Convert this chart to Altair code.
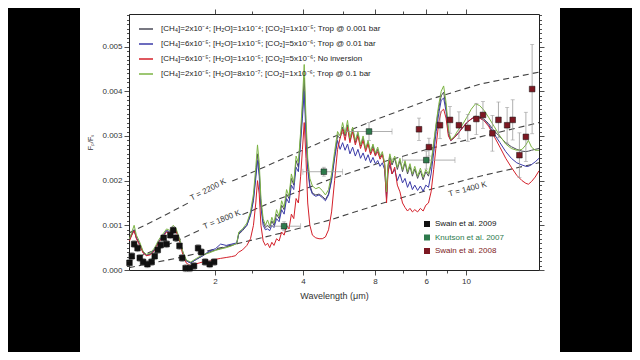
import altair as alt
import pandas as pd

# ---------------- data ----------------
# model wavelength grid (micron)
wl = [1.51, 1.53, 1.55, 1.57, 1.60, 1.63, 1.66, 1.70, 1.74, 1.78,
      1.82, 1.86, 1.90, 1.93, 1.96, 2.00, 2.04, 2.08, 2.13, 2.20,
      2.28, 2.36, 2.45, 2.52, 2.60, 2.68, 2.74, 2.76, 2.79, 2.85,
      2.92, 2.98, 3.03, 3.07, 3.10, 3.13, 3.16, 3.20, 3.24, 3.28,
      3.32, 3.36, 3.40, 3.45, 3.50, 3.55, 3.60, 3.65, 3.70, 3.75,
      3.80, 3.85, 3.90, 3.95, 3.99, 4.03, 4.07, 4.11, 4.16, 4.22,
      4.30, 4.38, 4.46, 4.54, 4.62, 4.70, 4.78, 4.86, 4.93, 5.00,
      5.07, 5.14, 5.21, 5.29, 5.37, 5.45, 5.53, 5.61, 5.69, 5.77,
      5.85, 5.93, 6.01, 6.09, 6.17, 6.25, 6.33, 6.40, 6.45, 6.52,
      6.60, 6.70, 6.80, 6.90, 7.00, 7.10, 7.20, 7.30, 7.40, 7.50,
      7.62, 7.74, 7.86, 7.98, 8.10, 8.22, 8.34, 8.46, 8.58, 8.70,
      8.82, 8.94, 9.06, 9.18, 9.35, 9.55, 9.80, 10.05, 10.30, 10.55,
      10.80, 11.05, 11.35, 11.70, 12.10, 12.50, 12.90, 13.30, 13.70, 14.00,
      14.20, 14.45, 14.75, 15.07]

# model Fp/Fs in units of 1e-3
m1 = [0.68, 0.80, 0.90, 0.72, 0.58, 0.40, 0.33, 0.36, 0.46, 0.64,
      0.76, 0.88, 0.85, 0.95, 0.90, 0.68, 0.38, 0.20, 0.16, 0.24,
      0.32, 0.40, 0.45, 0.48, 0.52, 0.55, 0.58, 0.60, 0.80, 0.88,
      1.00, 1.25, 1.60, 2.15, 2.60, 2.25, 1.50, 1.08, 0.95, 1.00,
      0.94, 1.10, 1.00, 1.25, 1.15, 1.45, 1.35, 1.70, 1.60, 2.05,
      1.90, 2.45, 2.30, 3.00, 3.60, 4.30, 3.20, 2.35, 1.90, 1.72,
      1.68, 1.70, 1.65, 1.58, 1.70, 2.05, 2.55, 3.00, 2.95, 3.20,
      3.00, 3.25, 2.90, 3.15, 2.85, 3.05, 2.78, 2.95, 2.70, 2.85,
      2.62, 2.78, 2.58, 2.70, 2.52, 2.60, 2.38, 1.70, 2.30, 2.55,
      2.35, 2.50, 2.25, 2.45, 2.20, 2.40, 2.15, 2.32, 2.10, 2.26,
      2.05, 2.22, 2.02, 2.20, 2.10, 2.35, 2.80, 3.25, 3.62, 3.90,
      3.98, 3.65, 3.10, 2.90, 2.96, 3.05, 3.18, 3.30, 3.38, 3.44,
      3.42, 3.38, 3.28, 3.12, 2.98, 2.85, 2.76, 2.70, 2.66, 2.65,
      2.66, 2.68, 2.70, 2.72]
m2 = [0.68, 0.80, 0.90, 0.72, 0.58, 0.40, 0.33, 0.36, 0.46, 0.64,
      0.76, 0.88, 0.85, 0.95, 0.90, 0.68, 0.38, 0.20, 0.16, 0.24,
      0.32, 0.42, 0.48, 0.58, 0.55, 0.58, 0.60, 0.62, 0.82, 0.90,
      1.00, 1.22, 1.55, 2.05, 2.45, 2.10, 1.40, 1.00, 0.90, 0.92,
      0.88, 1.00, 0.95, 1.15, 1.08, 1.35, 1.25, 1.60, 1.50, 1.90,
      1.80, 2.30, 2.20, 2.85, 3.40, 4.00, 3.00, 2.25, 1.85, 1.70,
      1.65, 1.68, 1.62, 1.55, 1.68, 2.00, 2.50, 2.90, 2.70, 2.85,
      2.68, 2.82, 2.60, 2.75, 2.55, 2.70, 2.50, 2.62, 2.45, 2.58,
      2.40, 2.52, 2.38, 2.45, 2.32, 2.40, 2.25, 1.60, 2.20, 2.35,
      2.15, 2.25, 2.00, 2.15, 1.95, 2.05, 1.85, 1.98, 1.80, 1.90,
      1.78, 1.88, 1.76, 1.90, 1.85, 2.15, 2.62, 3.10, 3.50, 3.80,
      3.85, 3.55, 3.05, 2.90, 2.96, 3.05, 3.18, 3.30, 3.38, 3.43,
      3.40, 3.35, 3.25, 3.05, 2.85, 2.65, 2.50, 2.40, 2.35, 2.32,
      2.32, 2.36, 2.42, 2.50]
m3 = [0.65, 0.78, 0.88, 0.70, 0.55, 0.38, 0.32, 0.34, 0.44, 0.62,
      0.74, 0.85, 0.82, 0.92, 0.88, 0.65, 0.32, 0.15, 0.10, 0.14,
      0.18, 0.20, 0.24, 0.26, 0.28, 0.30, 0.32, 0.36, 0.40, 0.45,
      0.55, 0.70, 1.00, 1.50, 2.00, 1.70, 1.00, 0.65, 0.55, 0.60,
      0.50, 0.62, 0.55, 0.70, 0.65, 0.85, 0.78, 1.00, 0.92, 1.25,
      1.15, 1.60, 1.50, 2.10, 2.70, 3.30, 2.50, 1.50, 1.00, 0.78,
      0.72, 0.70, 0.70, 0.74, 0.90, 1.30, 2.00, 2.70, 2.95, 3.15,
      2.90, 3.20, 2.85, 3.10, 2.80, 3.00, 2.72, 2.90, 2.65, 2.82,
      2.58, 2.72, 2.55, 2.65, 2.48, 2.58, 2.35, 1.50, 2.15, 2.45,
      2.15, 2.30, 1.90, 1.75, 1.50, 1.40, 1.32, 1.38, 1.30, 1.35,
      1.30, 1.38, 1.32, 1.45, 1.50, 1.75, 2.25, 2.80, 3.30, 3.55,
      3.60, 3.40, 3.00, 2.90, 2.96, 3.05, 3.18, 3.30, 3.38, 3.43,
      3.40, 3.35, 3.22, 3.00, 2.75, 2.50, 2.30, 2.12, 2.00, 1.94,
      1.92, 1.98, 2.08, 2.22]
m4 = [0.70, 0.85, 1.00, 0.78, 0.62, 0.42, 0.35, 0.38, 0.50, 0.68,
      0.80, 0.92, 0.88, 1.00, 0.94, 0.70, 0.40, 0.22, 0.18, 0.26,
      0.34, 0.38, 0.44, 0.47, 0.50, 0.54, 0.58, 0.60, 0.85, 0.92,
      1.05, 1.30, 1.70, 2.30, 2.80, 2.40, 1.60, 1.15, 1.00, 1.12,
      0.98, 1.18, 1.05, 1.35, 1.20, 1.55, 1.40, 1.80, 1.65, 2.15,
      1.95, 2.55, 2.40, 3.10, 3.80, 4.60, 3.40, 2.50, 2.05, 1.88,
      1.82, 1.85, 1.78, 1.68, 1.80, 2.15, 2.65, 3.10, 3.00, 3.30,
      3.05, 3.35, 2.95, 3.20, 2.90, 3.10, 2.80, 3.00, 2.72, 2.90,
      2.65, 2.82, 2.62, 2.75, 2.55, 2.65, 2.40, 1.75, 2.35, 2.60,
      2.40, 2.55, 2.30, 2.50, 2.25, 2.45, 2.20, 2.38, 2.15, 2.32,
      2.10, 2.28, 2.08, 2.25, 2.15, 2.40, 2.85, 3.30, 3.70, 4.00,
      4.12, 3.75, 3.15, 2.92, 2.98, 3.12, 3.25, 3.42, 3.60, 3.72,
      3.68, 3.58, 3.42, 3.22, 3.00, 2.82, 2.72, 2.68, 2.70, 2.80,
      2.90, 2.75, 2.68, 2.68]

model_names = [
    "[CH₄]=2x10⁻⁴; [H₂O]=1x10⁻⁴; [CO₂]=1x10⁻⁵; Trop @ 0.001 bar",
    "[CH₄]=6x10⁻⁵; [H₂O]=1x10⁻⁵; [CO₂]=5x10⁻⁶; Trop @ 0.01 bar",
    "[CH₄]=6x10⁻⁵; [H₂O]=1x10⁻⁵; [CO₂]=5x10⁻⁶; No inversion",
    "[CH₄]=2x10⁻⁵; [H₂O]=8x10⁻⁷; [CO₂]=1x10⁻⁶; Trop @ 0.1 bar",
]
model_colors = ["#4b4b58", "#3b3ba8", "#d4202a", "#7cb444"]

# observations (Fp/Fs in units of 1e-3)
s09_wl = [1.51, 1.53, 1.55, 1.58, 1.60, 1.63, 1.67, 1.71, 1.74, 1.77, 1.80, 1.83, 1.86,
          1.90, 1.93, 1.96, 2.00, 2.03, 2.07, 2.12, 2.17, 2.22, 2.26, 2.31, 2.37, 2.43]
s09_f = [0.16, 0.31, 0.58, 0.49, 0.27, 0.18, 0.13, 0.18, 0.31, 0.45, 0.56, 0.72, 0.58,
         0.78, 0.89, 0.72, 0.54, 0.27, 0.04, 0.04, 0.09, 0.49, 0.40, 0.18, 0.13, 0.18]
s09_err = [0.08] * len(s09_wl)

k07_wl = [3.6, 4.5, 5.8, 8.0]
k07_f = [0.98, 2.20, 3.10, 2.46]
k07_err = [0.10, 0.10, 0.20, 0.20]
k07_wlo = [3.25, 4.0, 5.1, 7.0]
k07_whi = [3.95, 5.0, 6.6, 9.4]

s08_wl = [7.68, 8.12, 8.64, 9.14, 9.61, 10.1, 10.6, 11.0, 11.6, 12.0, 12.6, 13.0, 13.5, 14.0, 14.5]
s08_f = [3.15, 2.75, 3.24, 3.36, 3.24, 3.18, 3.38, 3.47, 3.06, 3.36, 3.24, 3.36, 2.57, 2.98, 4.05]
s08_err = [0.25, 0.20, 0.30, 0.30, 0.30, 0.30, 0.35, 0.30, 0.40, 0.40, 0.40, 0.45, 0.50, 0.55, 1.00]

obs_names = ["Swain et al. 2009", "Knutson et al. 2007", "Swain et al. 2008"]
obs_colors = ["#111111", "#2d7a4c", "#7d1822"]

# blackbody reference curves (segments broken where the labels sit)
bb2200_wl = [1.506, 1.75, 2.12, None, 2.69, 3.52, 4.66, 6.17, 8.17, 10.82, 15.07]
bb2200_f = [0.83, 1.12, 1.52, None, 1.99, 2.46, 2.95, 3.40, 3.82, 4.16, 4.43]
bb1800_wl = [1.506, 1.75, 2.0, 2.25, None, 2.85, 3.52, 4.66, 6.17, 8.17, 10.82, 15.07]
bb1800_f = [0.22, 0.45, 0.68, 0.90, None, 1.24, 1.60, 2.03, 2.40, 2.72, 2.98, 3.30]
bb1400_wl = [1.506, 2.005, 2.655, 3.52, 4.66, 6.17, 8.17, 10.82, 15.07]
bb1400_f = [0.05, 0.28, 0.55, 0.82, 1.12, 1.48, 1.80, 2.10, 2.40]

ann_text = ["T = 2200 K", "T = 1800 K", "T = 1400 K"]
ann_wl = [2.35, 2.54, 10.1]
ann_f = [1.79, 1.12, 1.80]
ann_angle = [333, 338, 345]

# axis ticks
x_major = [2.44, 4, 6, 8, 10]
x_major_labels = ["2", "4", "8", "6", "10"]
x_minor = [3, 5, 7, 9]
y_ticks = [round(i * 1e-4, 4) for i in range(58)]

# ---------------- frames ----------------
rows = []
for name, fl in zip(model_names, [m1, m2, m3, m4]):
    for i, (w, v) in enumerate(zip(wl, fl)):
        rows.append({"model": name, "wl": w, "f": v / 1000.0, "i": i})
df_models = pd.DataFrame(rows)

orows = []
for name, ws, fs, es in [(obs_names[0], s09_wl, s09_f, s09_err),
                         (obs_names[1], k07_wl, k07_f, k07_err),
                         (obs_names[2], s08_wl, s08_f, s08_err)]:
    for w, f, e in zip(ws, fs, es):
        orows.append({"src": name, "wl": w, "f": f / 1000.0,
                      "lo": (f - e) / 1000.0, "hi": (f + e) / 1000.0})
df_obs = pd.DataFrame(orows)
df_k = pd.DataFrame({"f": [v / 1000.0 for v in k07_f], "wlo": k07_wlo, "whi": k07_whi})

brows = []
for t, ws, fs in [("2200", bb2200_wl, bb2200_f), ("1800", bb1800_wl, bb1800_f),
                  ("1400", bb1400_wl, bb1400_f)]:
    seg = 0
    for i, (w, f) in enumerate(zip(ws, fs)):
        if w is None:
            seg += 1
            continue
        brows.append({"bb": f"{t}-{seg}", "wl": w, "f": f / 1000.0, "i": i})
df_bb = pd.DataFrame(brows)

df_ann = pd.DataFrame({"t": ann_text, "wl": ann_wl, "f": [v / 1000.0 for v in ann_f],
                       "ang": ann_angle})

# ---------------- chart ----------------
FONT = "Liberation Sans"
xs = alt.Scale(type="log", domain=[1.506, 15.07], nice=False)
ys = alt.Scale(domain=[0, 0.00573], nice=False, zero=False)

x_vals = sorted(x_major + x_minor)
x_test = "indexof([" + ",".join(str(v) for v in x_major) + "], datum.value) >= 0"
x_label_expr = " : ".join(f"datum.value == {v} ? '{l}'" for v, l in zip(x_major, x_major_labels)) + " : ''"
y_test = "round(datum.value * 10000) % 10 == 0"

common_axis = dict(grid=False, domain=False, tickColor="#222", tickWidth=0.8, zindex=1,
                   labelFont=FONT, labelColor="#333", titleFont=FONT, titleColor="#333",
                   titleFontWeight="normal", labelOverlap=False, labelFlush=False)

x_bottom = alt.Axis(values=x_vals, labelExpr=x_label_expr,
                    tickSize={"condition": {"test": x_test, "value": 5}, "value": 3},
                    labelFontSize=8, labelPadding=2, title="Wavelength (μm)",
                    titleFontSize=9, titlePadding=6, **common_axis)
x_top = alt.Axis(orient="top", values=x_vals, labels=False, title=None,
                 tickSize={"condition": {"test": x_test, "value": 5}, "value": 3}, **common_axis)
y_left = alt.Axis(values=y_ticks, labelExpr=f"{y_test} ? format(datum.value, '.3f') : ''",
                  tickSize={"condition": {"test": y_test, "value": 5}, "value": 2.5},
                  labelFontSize=8, labelPadding=2, title="Fₚ/Fₛ", titleFontSize=7,
                  titlePadding=8, **common_axis)
y_right = alt.Axis(orient="right", values=y_ticks, labels=False, title=None,
                   tickSize={"condition": {"test": y_test, "value": 5}, "value": 2.5}, **common_axis)

bb = alt.Chart(df_bb).mark_line(strokeDash=[6, 4], color="#444", strokeWidth=1.1, clip=True).encode(
    x=alt.X("wl:Q", scale=xs, axis=x_top),
    y=alt.Y("f:Q", scale=ys, axis=y_right),
    detail="bb:N",
    order="i:Q",
)

lines = alt.Chart(df_models).mark_line(strokeWidth=1.0, clip=True).encode(
    x=alt.X("wl:Q", scale=xs, axis=x_bottom),
    y=alt.Y("f:Q", scale=ys, axis=y_left),
    color=alt.Color("model:N", sort=model_names,
                    scale=alt.Scale(domain=model_names, range=model_colors),
                    legend=alt.Legend(title=None, orient="none", legendX=9, legendY=7,
                                      symbolType="stroke", symbolSize=196, symbolStrokeWidth=1.5,
                                      labelFont=FONT, labelFontSize=8, labelColor="#222",
                                      labelLimit=0, rowPadding=3, labelOffset=7, padding=0)),
    order="i:Q",
)

yerr = alt.Chart(df_obs).mark_errorbar(ticks=alt.MarkConfig(size=4), color="#9a9a9a", thickness=0.8).encode(
    x=alt.X("wl:Q", scale=xs, axis=None),
    y=alt.Y("lo:Q", scale=ys, axis=None),
    y2="hi:Q",
)

xerr = alt.Chart(df_k).mark_errorbar(ticks=alt.MarkConfig(size=6), color="#9a9a9a", thickness=0.8).encode(
    x=alt.X("wlo:Q", scale=xs, axis=None),
    x2="whi:Q",
    y=alt.Y("f:Q", scale=ys, axis=None),
)

label_color_expr = " : ".join(f"datum.value == '{n}' ? '{c}'" for n, c in zip(obs_names, obs_colors)) + " : '#333'"

squares = alt.Chart(df_obs).mark_square(size=32, opacity=1, stroke="#111", strokeWidth=0.5).encode(
    x=alt.X("wl:Q", scale=xs, axis=None),
    y=alt.Y("f:Q", scale=ys, axis=None),
    fill=alt.Fill("src:N", sort=obs_names,
                  scale=alt.Scale(domain=obs_names, range=obs_colors),
                  legend=alt.Legend(title=None, orient="none", legendX=294, legendY=206,
                                    symbolType="square", symbolSize=36, symbolStrokeWidth=0,
                                    labelFont=FONT, labelFontSize=8, labelLimit=0,
                                    rowPadding=5.5, labelOffset=4, padding=0,
                                    labelColor=alt.ExprRef(label_color_expr))),
)

ann = alt.Chart(df_ann).mark_text(font=FONT, fontSize=8, color="#333").encode(
    x=alt.X("wl:Q", scale=xs, axis=None),
    y=alt.Y("f:Q", scale=ys, axis=None),
    text="t:N",
    angle=alt.Angle("ang:Q", scale=None),
)

side = pd.DataFrame({"k": [0]})
left_bar = alt.Chart(side).mark_rect(color="black").encode(
    x=alt.value(-125), x2=alt.value(-49), y=alt.value(-10), y2=alt.value(345))
right_bar = alt.Chart(side).mark_rect(color="black").encode(
    x=alt.value(431), x2=alt.value(510), y=alt.value(-10), y2=alt.value(345))

chart = alt.layer(bb, lines, yerr, xerr, squares, ann, left_bar, right_bar).resolve_axis(
    x="independent", y="independent"
).properties(
    width=410, height=256,
    padding={"left": 121, "top": 6, "right": 93, "bottom": 82},
    autosize=alt.AutoSizeParams(type="none"),
    background="white",
).configure_view(stroke="#222", strokeWidth=1)

chart.save("out.html", embed_options={"renderer": "svg", "actions": False})
